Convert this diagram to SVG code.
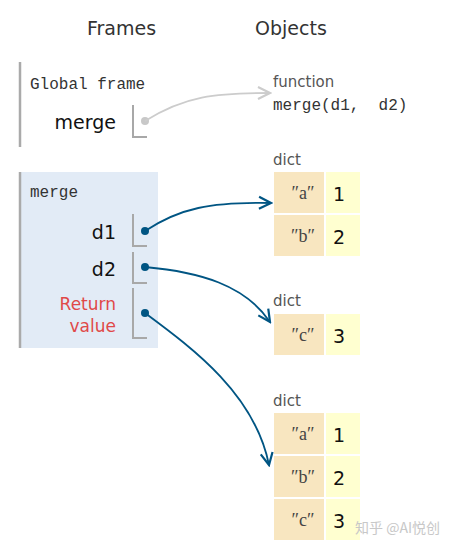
<svg xmlns="http://www.w3.org/2000/svg" width="449" height="551" viewBox="0 0 449 551">
<style>
.hdr{font-family:"DejaVu Sans",Verdana,sans-serif;font-size:19px;fill:#333}
.mono{font-family:"Liberation Mono","DejaVu Sans Mono",monospace;font-size:16px;fill:#333;white-space:pre}
.var{font-family:"DejaVu Sans",Verdana,sans-serif;font-size:19px;fill:#111;text-anchor:end}
.ret{font-family:"DejaVu Sans",Verdana,sans-serif;font-size:17px;fill:#e04848;text-anchor:end}
.lbl{font-family:"DejaVu Sans",Verdana,sans-serif;font-size:15px;fill:#555}
.key{font-family:"Liberation Serif","DejaVu Serif",serif;font-size:18px;fill:#444;text-anchor:middle}
.val{font-family:"DejaVu Sans",Verdana,sans-serif;font-size:19px;fill:#111}
.slot{fill:none;stroke:#a8a8a8;stroke-width:2}
.kc{fill:#f8e6c0}
.vc{fill:#ffffd0}
.bar{stroke:#aaa;stroke-width:2.5}
.ln{fill:none;stroke:#005583;stroke-width:1.8}
.lng{fill:none;stroke:#cccccc;stroke-width:1.8}
</style>
<defs>
<marker id="ab" viewBox="-14 -8 16 16" refX="0" refY="0" markerWidth="16" markerHeight="16" markerUnits="userSpaceOnUse" orient="auto">
<path d="M-12,-6 L0,0 L-12,6" fill="none" stroke="#005583" stroke-width="2.2"/>
</marker>
<marker id="ag" viewBox="-14 -8 16 16" refX="0" refY="0" markerWidth="16" markerHeight="16" markerUnits="userSpaceOnUse" orient="auto">
<path d="M-12,-6 L0,0 L-12,6" fill="none" stroke="#cccccc" stroke-width="2.2"/>
</marker>
</defs>
<rect width="449" height="551" fill="#fff"/>
<text class="hdr" x="87" y="35">Frames</text>
<text class="hdr" x="255" y="35">Objects</text>

<g id="global-frame">
<line class="bar" x1="20" y1="62" x2="20" y2="147"/>
<text class="mono" x="30" y="89">Global frame</text>
<text class="var" x="116" y="129">merge</text>
<path class="slot" d="M133,105 V137 H147"/>
<circle cx="145" cy="121" r="4" fill="#c8c8c8"/>
</g>

<g id="merge-frame">
<rect x="20" y="172" width="138" height="176" fill="#e2ebf6"/>
<line class="bar" x1="20" y1="172" x2="20" y2="348"/>
<text class="mono" x="30" y="197">merge</text>
<text class="var" x="116" y="239">d1</text>
<path class="slot" d="M133,214 V246 H147"/>
<circle cx="145" cy="231" r="4" fill="#005583"/>
<text class="var" x="116" y="276">d2</text>
<path class="slot" d="M133,252 V283 H147"/>
<circle cx="145" cy="267" r="4" fill="#005583"/>
<text class="ret" x="116" y="310">Return</text>
<text class="ret" x="116" y="332">value</text>
<path class="slot" d="M133,288 V338 H147"/>
<circle cx="145" cy="313" r="4" fill="#005583"/>
</g>

<g id="func-merge">
<text class="lbl" x="273" y="87">function</text>
<text class="mono" x="273" y="110" xml:space="preserve">merge(d1,  d2)</text>
</g>

<g id="dict1">
<text class="lbl" x="273" y="165">dict</text>
<rect class="kc" x="274" y="172" width="50" height="41"/>
<rect class="vc" x="326" y="172" width="34" height="41"/>
<rect class="kc" x="274" y="215" width="50" height="41"/>
<rect class="vc" x="326" y="215" width="34" height="41"/>
<text class="key" x="303" y="199">″a″</text>
<text class="val" x="333" y="201">1</text>
<text class="key" x="303" y="242">″b″</text>
<text class="val" x="333" y="244">2</text>
</g>

<g id="dict2">
<text class="lbl" x="273" y="306">dict</text>
<rect class="kc" x="274" y="314" width="50" height="41"/>
<rect class="vc" x="326" y="314" width="34" height="41"/>
<text class="key" x="303" y="341">″c″</text>
<text class="val" x="333" y="343">3</text>
</g>

<g id="dict3">
<text class="lbl" x="273" y="406">dict</text>
<rect class="kc" x="274" y="413" width="50" height="41"/>
<rect class="vc" x="326" y="413" width="34" height="41"/>
<rect class="kc" x="274" y="456" width="50" height="41"/>
<rect class="vc" x="326" y="456" width="34" height="41"/>
<rect class="kc" x="274" y="499" width="50" height="41"/>
<rect class="vc" x="326" y="499" width="34" height="41"/>
<text class="key" x="303" y="440">″a″</text>
<text class="val" x="333" y="442">1</text>
<text class="key" x="303" y="483">″b″</text>
<text class="val" x="333" y="485">2</text>
<text class="key" x="303" y="526">″c″</text>
<text class="val" x="333" y="528">3</text>
</g>

<g id="connectors">
<path class="lng" d="M145,121 C185,96 215,93 270,93" marker-end="url(#ag)"/>
<path class="ln" d="M145,231 C180,208 210,202 271,203" marker-end="url(#ab)"/>
<path class="ln" d="M145,267 C200,272 245,285 270,322" marker-end="url(#ab)"/>
<path class="ln" d="M145,313 C195,350 255,395 269,465" marker-end="url(#ab)"/>
</g>

<text x="355" y="533" font-family="Noto Sans CJK SC,sans-serif" font-size="14" fill="#c8c8c8">知乎 @AI悦创</text>
</svg>
